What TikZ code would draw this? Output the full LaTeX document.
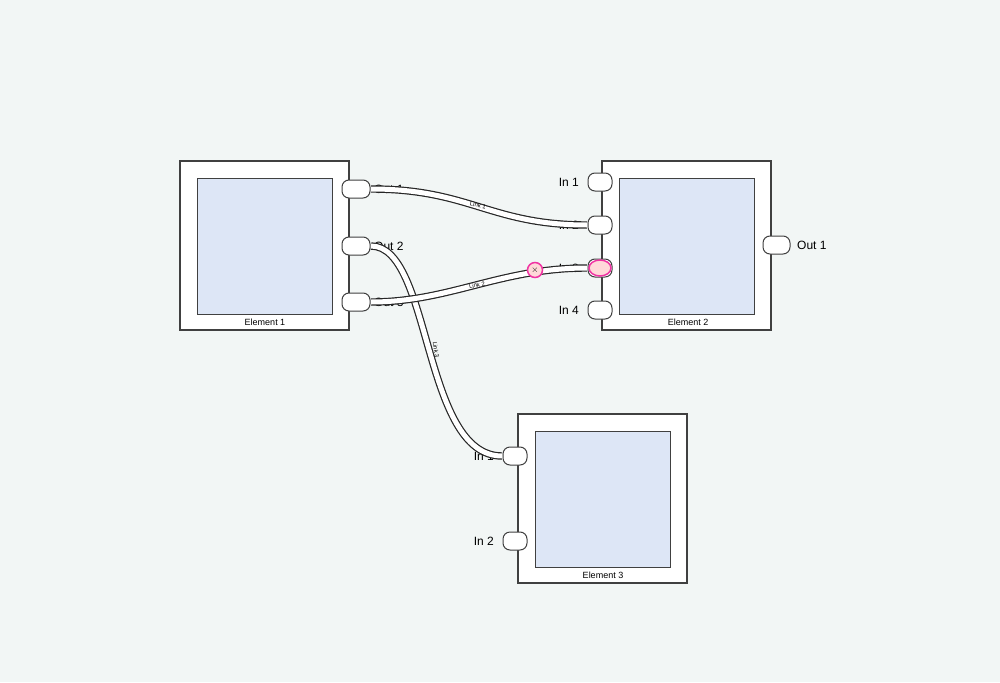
\documentclass[tikz,border=0pt]{standalone}
\usepackage{fontspec}
\usetikzlibrary{shapes.geometric}
\setmainfont{Liberation Sans}
\begin{document}
\begin{tikzpicture}[x=1pt,y=-1pt,
  outer/.style={draw=black!75,fill=white,line width=1.2pt},
  inner/.style={draw=black!75,fill=blue!10!cyan!3!white,line width=1pt},
  port/.style={draw=black!75,fill=white,line width=1pt,rounded corners=7pt},
  lbl/.style={font=\fontsize{12}{12}\selectfont,inner sep=1pt},
  elbl/.style={font=\fontsize{9}{9}\selectfont,inner sep=1pt},
  cable/.style={draw=black!85,line width=1.2pt,double=white,double distance=5pt},
  llbl/.style={font=\fontsize{6}{6}\selectfont,inner sep=0pt}]
\definecolor{bg}{HTML}{F2F6F5}
\definecolor{infill}{HTML}{DDE6F6}
\fill[bg] (0,0) rectangle (1000,682);
\useasboundingbox (0,0) rectangle (1000,682);
% elements
\foreach \n/\x/\y in {e1/180/161,e2/602/161,e3/518/414}{
  \draw[outer] (\x,\y) rectangle ++(169,169);
  \draw[inner,fill=infill] (\x+17,\y+17) rectangle ++(135,136);
}
\node[elbl] (l1) at (265,322) {Element 1};
\node[elbl] (l2) at (688,322) {Element 2};
\node[elbl] (l3) at (603,575) {Element 3};
% ports
\foreach \y/\t in {189/Out 1,246/Out 2,302/Out 3}{
  \draw[port] (342,\y-9) rectangle (370,\y+9);
  \node[lbl,anchor=west] at (373,\y) {\t};
}
\foreach \y/\t in {182/In 1,225/In 2,268/In 3,310/In 4}{
  \draw[port] (588,\y-9) rectangle (612,\y+9);
  \node[lbl,anchor=east] at (580,\y) {\t};
}
\draw[port] (763,236) rectangle (790,254);
\node[lbl,anchor=west] at (796,245) {Out 1};
\foreach \y/\t in {456/In 1,541/In 2}{
  \draw[port] (503,\y-9) rectangle (527,\y+9);
  \node[lbl,anchor=east] at (495,\y) {\t};
}
% cable ends
\coordinate (o1) at (371,189); \coordinate (o2) at (371,246); \coordinate (o3) at (371,302);
\coordinate (i2) at (587,225); \coordinate (i3) at (587,268); \coordinate (j1) at (502,456);
\draw[cable] (o2) .. controls (432,246) and (422,456) .. (j1);
\draw[cable] (o1) .. controls (470,189) and (490,225) .. (i2);
\draw[cable] (o3) .. controls (450,302) and (500,268) .. (i3);
\node[llbl,rotate=-12] (k1) at (478,205) {Link 1};
\node[llbl,rotate=13] (k2) at (477,285) {Link 2};
\node[llbl,rotate=-82] (k3) at (436,350) {Link 3};
% highlights
\node[draw=magenta!80,line width=1.5pt,fill=pink!60,circle,minimum size=15pt,inner sep=0pt,font=\fontsize{9}{9}\selectfont\bfseries] (x) at (535,270) {$\times$};
\node[draw=magenta!80,line width=1.5pt,fill=pink!60,ellipse,minimum width=22pt,minimum height=16pt,inner sep=0pt] (h) at (600,268) {};
\end{tikzpicture}
\end{document}
